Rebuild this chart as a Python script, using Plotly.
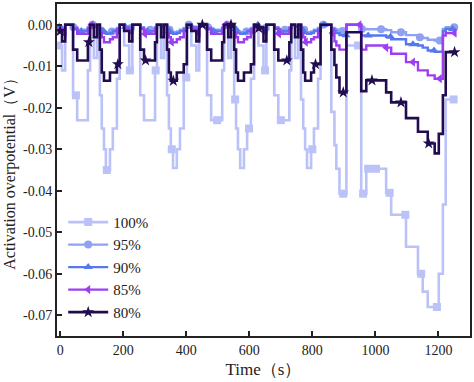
import numpy as np
import plotly.graph_objects as go

# step start times (s)
time_s = [
    -8, 6, 16, 41, 54, 88, 95, 107, 117, 126, 132, 139, 145, 158, 167, 180, 189,
    203, 219, 229, 254, 266, 301, 307, 320, 329, 339, 345, 351, 358, 370, 380, 392, 402,
    416, 432, 441, 466, 479, 514, 520, 533, 542, 552, 558, 564, 571, 583, 593, 605, 615,
    629, 645, 654, 679, 692, 727, 733, 745, 755, 764, 771, 777, 783, 796, 805, 818,
    826, 860, 870, 876, 886, 908, 955, 971, 1034, 1050, 1097, 1135, 1150, 1166, 1188, 1201, 1214, 1223, 1254,
]

act_100 = [
    -0.005, -0.011, 0, -0.017, -0.023, -0.011, 0, -0.008, 0, -0.017, -0.025, -0.030, -0.035, -0.030, -0.025, -0.013, 0,
    -0.005, -0.011, 0, -0.017, -0.023, -0.011, 0, -0.008, 0, -0.017, -0.025, -0.030, -0.0345, -0.030, -0.025, -0.0127, 0,
    -0.005, -0.011, 0, -0.017, -0.023, -0.011, 0, -0.008, 0, -0.018, -0.025, -0.030, -0.0345, -0.030, -0.025, -0.013, 0,
    -0.005, -0.011, 0, -0.017, -0.023, -0.011, 0, -0.008, 0, -0.018, -0.025, -0.030, -0.0345, -0.030, -0.025, -0.013,
    0, -0.021, -0.029, -0.0347, -0.0407, -0.005, -0.0407, -0.0347, -0.0405, -0.0458, -0.0535, -0.060, -0.0643, -0.068, -0.068, -0.060, -0.0433, -0.018, -0.018,
]
act_95 = [
    -0.0005, -0.0008, 0, -0.0006, -0.0012, -0.0006, 0, -0.0003, 0, -0.0008, -0.0012, -0.0016, -0.0018, -0.0016, -0.0012, -0.0008, 0,
    -0.0005, -0.0008, 0, -0.0006, -0.0012, -0.0006, 0, -0.0003, 0, -0.0008, -0.0012, -0.0016, -0.0018, -0.0016, -0.0012, -0.0008, 0,
    -0.0005, -0.0008, 0, -0.0006, -0.0012, -0.0006, 0, -0.0003, 0, -0.0008, -0.0012, -0.0016, -0.0018, -0.0016, -0.0012, -0.0008, 0,
    -0.0005, -0.0008, 0, -0.0006, -0.0012, -0.0006, 0, -0.0003, 0, -0.0008, -0.0012, -0.0016, -0.0018, -0.0016, -0.0012, -0.0008,
    0, -0.0008, -0.001, -0.0012, -0.0015, 0, -0.001, -0.0011, -0.0013, -0.0018, -0.0025, -0.003, -0.0032, -0.0036, -0.0038, -0.0038, -0.001, -0.0006, -0.0006,
]
act_90 = [
    -0.0005, -0.001, 0, -0.0008, -0.0015, -0.0008, 0, -0.0004, 0, -0.001, -0.0015, -0.002, -0.0022, -0.002, -0.0015, -0.001, 0,
    -0.0005, -0.001, 0, -0.0008, -0.0015, -0.0008, 0, -0.0004, 0, -0.001, -0.0015, -0.002, -0.0022, -0.002, -0.0015, -0.001, 0,
    -0.0005, -0.001, 0, -0.0008, -0.0015, -0.0008, 0, -0.0004, 0, -0.001, -0.0015, -0.002, -0.0022, -0.002, -0.0015, -0.001, 0,
    -0.0005, -0.001, 0, -0.0008, -0.0015, -0.0008, 0, -0.0004, 0, -0.001, -0.0015, -0.002, -0.0022, -0.002, -0.0015, -0.001,
    0, -0.001, -0.0015, -0.002, -0.0025, 0, -0.0026, -0.0026, -0.0029, -0.0035, -0.0047, -0.005, -0.0055, -0.0062, -0.0065, -0.0065, -0.0015, -0.001, -0.001,
]
act_85 = [
    -0.001, -0.002, 0, -0.001, -0.0022, -0.001, 0, -0.0005, 0, -0.002, -0.003, -0.0042, -0.0042, -0.0035, -0.003, -0.0015, 0,
    -0.001, -0.002, 0, -0.001, -0.0022, -0.001, 0, -0.0005, 0, -0.002, -0.003, -0.0042, -0.0042, -0.0035, -0.003, -0.0015, 0,
    -0.001, -0.002, 0, -0.001, -0.0022, -0.001, 0, -0.0005, 0, -0.002, -0.003, -0.0042, -0.0042, -0.0035, -0.003, -0.0015, 0,
    -0.001, -0.002, 0, -0.001, -0.0022, -0.001, 0, -0.0005, 0, -0.002, -0.003, -0.0042, -0.0042, -0.0035, -0.003, -0.0015,
    0, -0.002, -0.004, -0.005, -0.006, 0, -0.006, -0.005, -0.0055, -0.007, -0.009, -0.011, -0.011, -0.0122, -0.013, -0.013, -0.0026, -0.002, -0.002,
]
act_80 = [
    -0.0015, -0.004, 0, -0.006, -0.0086, -0.0042, 0, -0.003, 0, -0.006, -0.0115, -0.0135, -0.0135, -0.0115, -0.0115, -0.0095, 0,
    -0.0015, -0.004, 0, -0.006, -0.0086, -0.0042, 0, -0.003, 0, -0.006, -0.0115, -0.0135, -0.0135, -0.0115, -0.0115, -0.0095, 0,
    -0.0015, -0.004, 0, -0.006, -0.0086, -0.0042, 0, -0.003, 0, -0.006, -0.0115, -0.0135, -0.0135, -0.0115, -0.0115, -0.0095, 0,
    -0.0008, -0.004, 0, -0.006, -0.0086, -0.0042, 0, -0.003, 0, -0.006, -0.0115, -0.0135, -0.0135, -0.0115, -0.0095, -0.0095,
    0, -0.006, -0.0097, -0.0127, -0.0163, -0.0018, -0.016, -0.0134, -0.0163, -0.0187, -0.0225, -0.0258, -0.0258, -0.0286, -0.031, -0.0263, -0.017, -0.0066, -0.0066,
]

# times at which each series carries a symbol
marks_100 = [-6, 50, 148, 221, 303, 354, 400, 498, 555, 599, 650, 700, 800, 898, 945, 961, 977, 1002, 1045, 1095, 1145, 1195, 1248]
marks_95 = [42, 103, 164, 225, 286, 347, 408, 469, 530, 591, 652, 713, 774, 835, 896, 957, 1018, 1081, 1141, 1204, 1250]
marks_90 = [-3, 67, 137, 207, 277, 347, 417, 487, 557, 627, 697, 767, 837, 907, 977, 1048, 1119, 1186, 1245]
marks_85 = [14, 99, 184, 269, 354, 439, 524, 609, 694, 779, 864, 949, 1034, 1119, 1204, 1251]
marks_80 = [0, 91, 183, 271, 359, 451, 542, 630, 719, 810, 898, 989, 1081, 1169, 1251]

series_names = ["100%", "95%", "90%", "85%", "80%"]
series_values = [act_100, act_95, act_90, act_85, act_80]
series_marks = [marks_100, marks_95, marks_90, marks_85, marks_80]
colors = ["#bac2f8", "#8fa1f0", "#5677ee", "#9d3ff0", "#220c50"]
symbols = ["square", "circle", "triangle-up", "triangle-left", "star"]
widths = [2.6, 2.4, 2.4, 2.4, 2.6]

y_tickvals = [0, -0.01, -0.02, -0.03, -0.04, -0.05, -0.06, -0.07]
y_ticktext = ["0.00", "-0.01", "-0.02", "-0.03", "-0.04", "-0.05", "-0.06", "-0.07"]
x_tickvals = [0, 200, 400, 600, 800, 1000, 1200]

FONT = "Liberation Serif"

fig = go.Figure()
t_arr = np.array(time_s, dtype=float)
for name, vals, marks, col, sym, w in zip(series_names, series_values, series_marks, colors, symbols, widths):
    v = np.array(vals, dtype=float)
    msize = 9 if sym == "star" else 8
    fig.add_trace(go.Scatter(x=time_s, y=vals, mode="lines", line=dict(color=col, width=w, shape="hv"),
                             showlegend=False, hoverinfo="skip"))
    idx = np.searchsorted(t_arr, np.array(marks, dtype=float), side="right") - 1
    fig.add_trace(go.Scatter(x=marks, y=v[idx], mode="markers",
                             marker=dict(symbol=sym, size=msize, color=col),
                             showlegend=False, hoverinfo="skip"))
    fig.add_trace(go.Scatter(x=[None], y=[None], mode="lines+markers", name=name,
                             line=dict(color=col, width=w),
                             marker=dict(symbol=sym, size=msize, color=col)))

axis_common = dict(showline=True, linewidth=2, linecolor="#222222", mirror=True,
                   ticks="inside", ticklen=5, tickwidth=1.5, tickcolor="#222222",
                   showgrid=False, zeroline=False,
                   tickfont=dict(family=FONT, size=14, color="#222222"))

fig.update_layout(
    width=474, height=382,
    margin=dict(l=57, r=2, t=2, b=46),
    paper_bgcolor="white", plot_bgcolor="white",
    font=dict(family=FONT, color="#222222"),
    xaxis=dict(range=[-10, 1300], tickvals=x_tickvals,
               title=dict(text="Time（s）", font=dict(family=FONT, size=17), standoff=6),
               **axis_common),
    yaxis=dict(range=[-0.075, 0.005], tickvals=y_tickvals, ticktext=y_ticktext,
               title=dict(text="Activation overpotential（V）", font=dict(family=FONT, size=16), standoff=3),
               **axis_common),
    legend=dict(x=0.015, y=0.392, xanchor="left", yanchor="top", bgcolor="rgba(0,0,0,0)",
                font=dict(family=FONT, size=15, color="#222222"), itemwidth=40, tracegroupgap=0),
)

fig.write_html("out.html", config={"displayModeBar": False},
               post_script="document.body.style.margin='0';")
